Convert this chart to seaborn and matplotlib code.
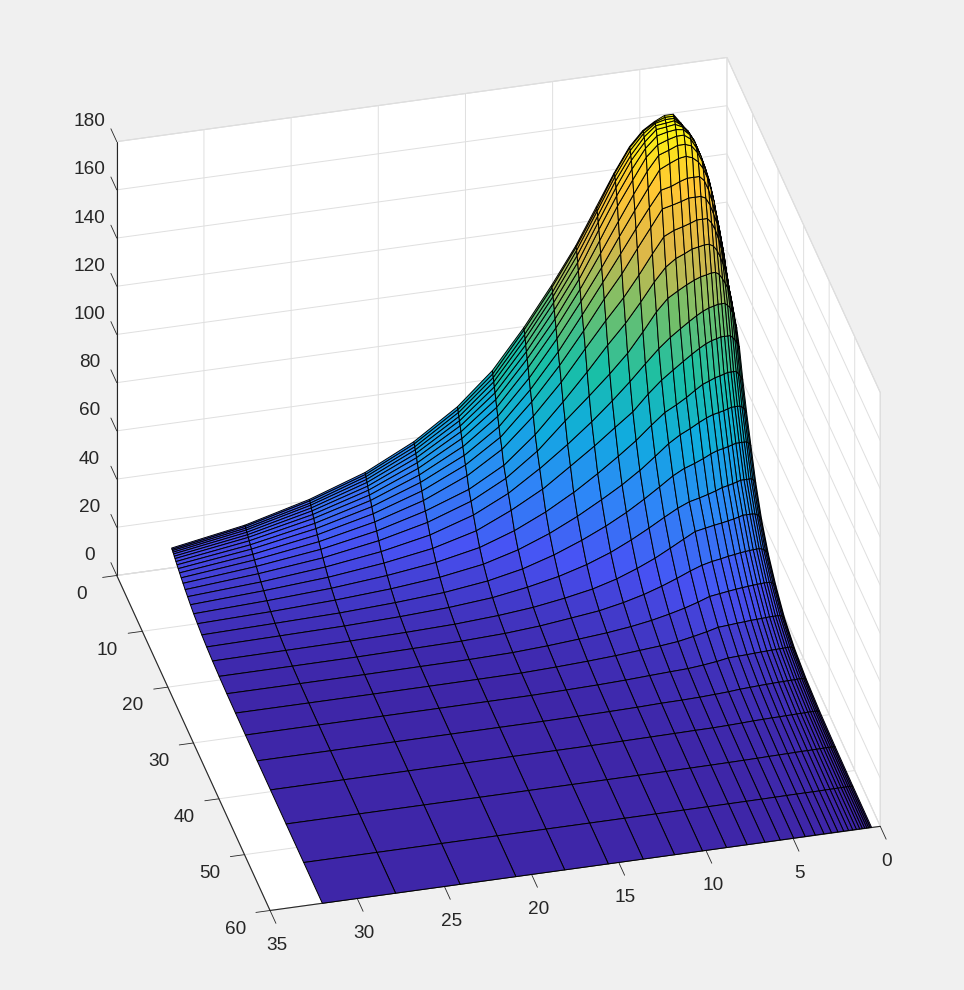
import numpy as np
import matplotlib
matplotlib.use("Agg")
import matplotlib.pyplot as plt
from matplotlib.colors import PowerNorm
from matplotlib.transforms import Affine2D
import seaborn as sns

x_grid = [0.50,0.58,0.67,0.77,0.89,1.03,1.18,1.37,1.58,1.82,2.10,2.43,2.80,3.23,3.73,
          4.31,4.97,5.74,6.62,7.64,8.82,10.2,11.8,13.6,15.6,18.1,20.9,24.1,27.8,32.0]
y_grid = [1.00,1.15,1.33,1.53,1.76,2.03,2.33,2.69,3.10,3.57,4.11,4.74,5.46,6.29,7.25,
          8.35,9.62,11.1,12.8,14.7,17.0,19.6,22.6,26.0,29.9,34.5,39.7,45.8,52.7,60.0]

# Heights for the 15 smallest x values, one row per y value
z_left_rows = [
 [105,108,111,115,119,124,129,135,140,146,150,154,158,162,162],
 [105,108,111,115,119,124,129,135,140,146,150,154,158,161.5,161.5],
 [104.5,108,111,115,119,124,130,135,141,146,151,155,158,161,161],
 [104,107.5,111,115,119,124,130,136,141,146,151,155,158,160.5,160],
 [103,107,111,115,119,125,130,136,141,146,151,155,158,159.5,159],
 [102,106,110,115,119,125,130,136,141,146,151,155,157.5,158,157.5],
 [101,105,110,114,119,124,130,136,141,146,150,154,156,156,155],
 [100,104,109,113,118,123,129,135,140,145,149,152,153,153,151.5],
 [99,103,108,112,117,122,128,134,139,143,146,148,149,148.5,147],
 [97,101,106,110,115,120,125,130,135,139,141,141,141,140,138.5],
 [95,99,103,107,112,117,122,126,130,133,134,134,134,133,132],
 [93,96,100,104,108,113,117,121,124,126,126,126,125,124,123],
 [91,94,97,101,105,108,111,114,116,117,117,116.5,116,114.5,113],
 [88,91,94,97,100,102,104,106,107,107,106.5,106,105,103.5,101.5],
 [85,87,90,92,94,95,96,96,96,95.5,95,94,92.5,90.5,88],
 [79,80.5,82,83,84,85,85,85,85,84.5,84,83,81.5,79.5,77],
 [69,70,71,72,73,73,73,73,72.5,72,71.5,70.5,69.5,67.5,65],
 [59,60,61,61.5,62,62,62,62,61.5,61,60.5,60,59,57.5,55.5],
 [49,50,50.5,51,51,51,51,51,50.5,50,49.5,49,48,46.5,45],
 [38,39,39.5,40,40,40,40,40,39.5,39,38.5,38,37,36,35],
 [28,29,29.8,30.4,30.8,31,31,31,31,30.5,30,29.5,29,28.5,27.8],
 [20,20.8,21.4,22,22.4,22.6,22.6,22.5,22.4,22.2,22,21.6,21.2,20.6,20],
 [13.5,14.2,14.8,15.2,15.5,15.5,15.5,15.4,15.3,15.2,15,14.8,14.5,14.1,13.6],
 [8,8.6,9.1,9.4,9.5,9.5,9.5,9.5,9.4,9.3,9.2,9.1,8.9,8.7,8.4],
 [4.5,4.9,5.2,5.4,5.4,5.4,5.3,5.3,5.2,5.2,5.1,5,4.9,4.7,4.6],
 [2.4,2.7,2.9,3,3,3,2.9,2.9,2.9,2.8,2.8,2.7,2.6,2.5,2.3],
 [1.2,1.3,1.4,1.5,1.5,1.5,1.5,1.4,1.4,1.4,1.3,1.3,1.2,1.2,1.1],
 [.6,.65,.7,.7,.7,.7,.7,.65,.65,.6,.6,.6,.55,.5,.45],
 [.25,.3,.3,.3,.3,.3,.3,.3,.25,.25,.25,.2,.2,.2,.2],
 [.1,.1,.1,.1,.1,.1,.1,.1,.1,.1,.1,.1,.1,.1,.1],
]

# Heights for the 15 largest x values, one column per x value
z_x_4_31 = [160,160,160,159.5,158.5,156.5,153.5,150,145,137.5,131,121,110,99,85,74,62.5,53.5,43.5,34,27,19,13,8.1,4.4,2.1,1,.4,.16,.06]
z_x_4_97 = [157,157,156.5,155.5,154,152,149,144,138,131,124,114.5,104.5,94,81,70.5,60,50.5,41,32,24.5,17.3,11.3,6.9,3.6,1.7,.8,.3,.13,.05]
z_x_5_74 = [151,151,150.2,148.7,147.2,144.2,140.4,135.3,129.5,123,116,106.5,97,86.5,75.5,65.5,55.5,46,37.2,29,21.5,15,9.6,5.7,2.9,1.4,.6,.24,.09,.05]
z_x_6_62 = [141,141,140.3,138.9,136.8,134,130.4,124.9,119.6,113.5,106.5,98,89,78.5,69,59,50,41,33,25.4,18.2,12.6,8,4.5,2.3,1.1,.44,.17,.07,.03]
z_x_7_64 = [128,127.5,127,125.4,123.5,121,117.1,112.7,107.7,102.7,97,89.5,81,71,62,53.5,44.5,36,28.5,21.5,15,10.2,6.4,3.7,2,.9,.4,.12,.04,.01]
z_x_8_82 = [113,112.7,111.9,110.2,107.9,105.1,102.3,98.9,94.9,90.4,85,79,71,63,54.5,47,38.5,31,24,17.5,11.8,8,5,3,1.6,.8,.3,.07,.02,.01]
z_x_10_2 = [98,97.5,96,94.6,92.6,90.2,87.2,84.3,80.8,76.4,72,66.5,60,54,46.5,40,32,25.5,19.5,13.8,9,6,3.8,2.2,1.1,.5,.2,.04,.01,0]
z_x_11_8 = [82,81.5,80,78.6,76.7,74.5,72.2,69.4,66,62.3,58.5,54,48,43,38,32,25.5,20,15,10.5,6.8,4.6,2.8,1.5,.7,.3,.1,.02,.01,0]
z_x_13_6 = [66,65,63.9,62.6,61,59.2,57.1,54.7,51.9,48.7,45.5,42,37,33.5,29.5,25,19.5,15,11,7.8,4.8,3.1,1.8,.9,.4,.15,.03,.01,0,0]
z_x_15_6 = [53,52.2,51.3,50.1,48.9,47.4,45.7,43.7,41.3,38.7,36,33,29,26,22.5,18.5,14.5,11,8,5.5,3.4,2,1,.4,.14,.05,.02,.01,0,0]
z_x_18_1 = [41,40.4,39.6,38.8,37.8,36.7,35.3,33.8,32,30,27.7,25.2,22.5,19.7,16.7,13.7,10.8,8.1,5.7,3.9,2.3,1.3,.6,.27,.11,.04,.02,.01,0,0]
z_x_20_9 = [31,30.5,30,29.3,28.6,27.7,26.7,25.5,24.2,22.7,21,19.1,17,14.9,12.6,10.4,8.2,6.1,4.3,2.9,1.7,1,.5,.2,.08,.03,.01,0,0,0]
z_x_24_1 = [23,22.7,22.2,21.8,21.2,20.6,19.8,19,17.9,16.8,15.5,14.1,12.6,11,9.4,7.7,6.1,4.6,3.2,2.2,1.3,.7,.35,.15,.06,.02,.01,0,0,0]
z_x_27_8 = [16,15.8,15.5,15.2,14.8,14.4,14,13.4,12.7,12,11.1,10.2,9.2,8.1,6.9,5.8,4.6,3.5,2.6,1.8,1.1,.6,.3,.14,.06,.02,.01,0,0,0]
z_x_32_0 = [10.7,10.5,10.4,10.2,10,9.7,9.4,9,8.6,8.1,7.6,7,6.4,5.7,5,4.2,3.4,2.7,2,1.4,.9,.55,.3,.14,.06,.02,.01,0,0,0]

x_ticks = [0,5,10,15,20,25,30,35]
y_ticks = [0,10,20,30,40,50,60]
z_ticks = [0,20,40,60,80,100,120,140,160,180]

colour_nodes = [(.2422,.1504,.6603),(.2810,.3228,.9579),(.1786,.5289,.9682),
                (.0641,.6729,.8750),(.10,.75,.65),(.44,.75,.42),
                (.87,.72,.28),(1.0,.78,.20),(.9763,.9831,.0538)]

sns.set_theme(style="white", rc={"grid.color":"#dfdfdf","grid.linewidth":0.7})
plt.rcParams["font.family"] = ["Liberation Sans","DejaVu Sans"]

W, H = 964, 990
fig = plt.figure(figsize=(W/100, H/100), dpi=100, facecolor="#f0f0f0")
ax = fig.add_axes([-15/W, -7.5/H, 1000/W, 1000/H], projection="3d", proj_type="ortho",
                  facecolor="#f0f0f0")
ax.view_init(elev=33.3, azim=75.9, roll=0)
ax.set_box_aspect((1,1,.825))

X, Y = np.meshgrid(x_grid, y_grid)
Z_right = np.array([z_x_4_31,z_x_4_97,z_x_5_74,z_x_6_62,z_x_7_64,z_x_8_82,z_x_10_2,z_x_11_8,
                    z_x_13_6,z_x_15_6,z_x_18_1,z_x_20_9,z_x_24_1,z_x_27_8,z_x_32_0]).T
Z = np.hstack([np.array(z_left_rows), Z_right])
cmap = sns.blend_palette(colour_nodes, n_colors=256, as_cmap=True)
ax.plot_surface(X, Y, Z, rstride=1, cstride=1, cmap=cmap,
                norm=PowerNorm(gamma=0.85, vmin=0, vmax=162),
                edgecolor="black", linewidth=0.7, antialiased=True, shade=False)

ax.set_xlim(0,35); ax.set_ylim(0,60); ax.set_zlim(0,180)
ax.set_xticks(x_ticks); ax.set_yticks(y_ticks); ax.set_zticks(z_ticks)

def style_axis(axis, inward, outward, dx, dy):
    axis.set_pane_color((1,1,1,1))
    axis.pane.set_edgecolor("#d8d8d8")
    axis.pane.set_linewidth(0.8)
    axis.line.set_color("#262626")
    axis.line.set_linewidth(0.8)
    axis._axinfo["tick"]["inward_factor"] = inward
    axis._axinfo["tick"]["outward_factor"] = outward
    axis._axinfo["tick"]["linewidth"] = {True:0.6, False:0.6}
    axis._axinfo["tick"]["color"] = "#262626"
    base = axis.get_major_ticks
    shift = Affine2D().translate(dx, dy)
    def shifted(numticks=None):
        ticks = base(numticks)
        for t in ticks:
            t.label1.set_transform(ax.transData + shift)
        return ticks
    axis.get_major_ticks = shifted

style_axis(ax.xaxis, 0.48, 0.0, 1, 2)
style_axis(ax.yaxis, 0.29, 0.0, -12, 9)
style_axis(ax.zaxis, 0.0, 0.48, 1, 19)
ax.zaxis._get_tickdir = lambda pos: 1
ax.tick_params(labelsize=13.7, labelcolor="#262626", color="#262626", pad=6)
ax.grid(True)
fig.savefig("out.png", dpi=100, facecolor=fig.get_facecolor())
